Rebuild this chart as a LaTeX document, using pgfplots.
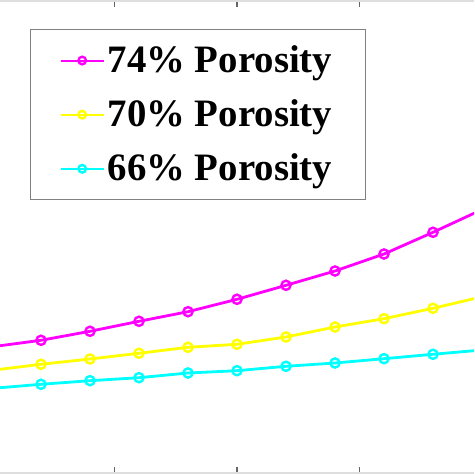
\documentclass[border=0pt]{standalone}
\usepackage{fontspec}
\setmainfont{Liberation Serif}
\usepackage{pgfplots}
\pgfplotsset{compat=1.18}
\definecolor{mmag}{rgb}{1,0,1}
\definecolor{myel}{rgb}{1,1,0}
\definecolor{mcyan}{rgb}{0,1,1}
\newcommand{\pad}{\rule{0.5pt}{0pt}}
\begin{document}
\begin{tikzpicture}
\begin{axis}[
  scale only axis, width=237pt, height=236pt,
  xmin=0.03265, xmax=1.96735, ymin=1, ymax=473,
  axis x line*=box, axis y line=none,
  x axis line style={draw=black!13, line width=1pt},
  xtick={0.5,1,1.5}, xticklabels={}, ytick=\empty,
  xtick pos=both,
  tick align=inside, major tick length=3pt,
  tick style={draw=black!60, line width=0.6pt},
  clip=true,
  legend style={at={(0.0633,0.9407)}, anchor=north west, draw=black!50, line width=0.7pt,
    font=\bfseries\fontsize{19.4}{22}\selectfont, inner xsep=14.5pt, inner ysep=6.45pt,
    row sep=9.1pt, nodes={inner sep=1.5pt},
    /tikz/every even column/.append style={column sep=0pt}},
  legend cell align=left,
  legend image code/.code={
    \draw[#1,line width=1pt,mark=none] (0pt,0pt) -- (21.5pt,0pt);
    \draw[#1,line width=0.8pt,mark size=1.9pt] plot coordinates {(10.75pt,0pt)};
  },
]
\addplot[mmag, line width=1.4pt, mark=o, mark size=2.3pt, mark options={line width=1.2pt}] coordinates {
(0,127.2) (0.2,133.7) (0.4,142.7) (0.6,152.7) (0.8,162.3) (1.0,174.7) (1.2,188.7) (1.4,203) (1.6,220) (1.8,241.7) (2.0,264.4)};
\addlegendentry{74\% Porosity\pad}
\addplot[myel, line width=1.4pt, mark=o, mark size=2.3pt, mark options={line width=1.2pt}] coordinates {
(0,103.7) (0.2,109.7) (0.4,115) (0.6,120.7) (0.8,126.7) (1.0,129.7) (1.2,137) (1.4,147) (1.6,155.3) (1.8,165.7) (2.0,177.2)};
\addlegendentry{70\% Porosity\pad}
\addplot[mcyan, line width=1.4pt, mark=o, mark size=2.3pt, mark options={line width=1.2pt}] coordinates {
(0,85.6) (0.2,89.7) (0.4,93.3) (0.6,96.3) (0.8,101) (1.0,103.3) (1.2,107.7) (1.4,111) (1.6,115.3) (1.8,119.7) (2.0,124)};
\addlegendentry{66\% Porosity\pad}
\end{axis}
\pgfresetboundingbox
\path[use as bounding box] ([yshift=-0.5pt]current axis.south west) rectangle ([yshift=0.5pt]current axis.north east);
\end{tikzpicture}
\end{document}
